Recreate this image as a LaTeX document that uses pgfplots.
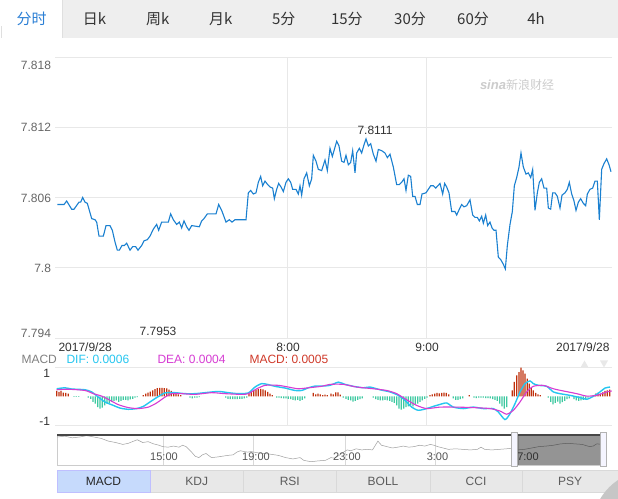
\documentclass[border=0pt]{standalone}
\usepackage{pgfplots}
\pgfplotsset{compat=1.18}
\usepackage{fontspec}
\setmainfont{Liberation Sans}
\newfontfamily\cjk{Noto Sans CJK SC}
\definecolor{lineblue}{HTML}{1A80D0}
\definecolor{gridc}{HTML}{E8E8E8}
\definecolor{tickc}{HTML}{666666}
\definecolor{darkt}{HTML}{333333}
\definecolor{difc}{HTML}{25C6F0}
\definecolor{deac}{HTML}{D63CD3}
\definecolor{barred}{HTML}{C0300C}
\definecolor{bargreen}{HTML}{3CC9A0}
\definecolor{legred}{HTML}{D03A2A}
\definecolor{tabbg}{HTML}{EEEEEE}
\definecolor{tabblue}{HTML}{2B7FD5}
\definecolor{wm}{HTML}{CCCCCC}
\definecolor{btnbg}{HTML}{E8E8E8}
\definecolor{btnsel}{HTML}{C6DAFC}
\begin{document}
\begin{tikzpicture}[x=1pt,y=1pt,font=\fontsize{12}{14}\selectfont]
\useasboundingbox (0,0) rectangle (618,498);
\clip (0,0) rectangle (618,498);
\fill[white] (0,0) rectangle (618,498);
% ---- tab bar
\fill[tabbg] (0,460) rectangle (618,498);
\fill[white] (0,460) rectangle (62.5,498);
\draw[gray!25] (62.5,460) -- (62.5,498);
\draw[gray!25] (1,460) -- (1,472);
\begin{scope}[font=\cjk\fontsize{15}{18}\selectfont]
\node[text=tabblue] at (31.5,479) {分时};
\node[text=darkt] at (94.6,479) {日k};
\node[text=darkt] at (157.7,479) {周k};
\node[text=darkt] at (220.7,479) {月k};
\node[text=darkt] at (283.8,479) {5分};
\node[text=darkt] at (346.9,479) {15分};
\node[text=darkt] at (410,479) {30分};
\node[text=darkt] at (473,479) {60分};
\node[text=darkt] at (536,479) {4h};
\end{scope}
% ---- main price chart
\begin{axis}[at={(55pt,160pt)}, anchor=south west, scale only axis,
  width=557pt, height=281pt,
  xmin=165, xmax=1836, ymin=7.794, ymax=7.818,
  axis line style={draw=none}, major tick length=0pt,
  xtick={862,1280}, ytick={7.794,7.8,7.806,7.812,7.818},
  xticklabels={}, yticklabels={},
  grid=major, major grid style={draw=gridc, line width=0.9pt}]
\addplot[lineblue, line width=1.1pt] coordinates {
(172,7.8054)(192,7.8054)(200,7.8057)(215,7.8050)(222,7.8050)(237,7.8056)(242,7.8056)(248,7.8060)(255,7.8056)(262,7.8055)(275,7.8042)(285,7.8041)(290,7.8039)(297,7.8027)(310,7.8027)(318,7.8036)(330,7.8036)(337,7.8032)(345,7.8022)(352,7.8015)(358,7.8015)(366,7.8019)(373,7.8019)(380,7.8021)(390,7.8015)(398,7.8018)(407,7.8018)(414,7.8015)(425,7.8019)(432,7.8023)(442,7.8024)(450,7.8027)(460,7.8033)(470,7.8037)(476,7.8032)(485,7.8039)(505,7.8039)(512,7.8046)(520,7.8041)(530,7.8037)(538,7.8039)(545,7.8034)(552,7.8040)(560,7.8035)(567,7.8032)(575,7.8036)(598,7.8035)(605,7.8040)(612,7.8042)(622,7.8046)(648,7.8046)(656,7.8054)(665,7.8049)(678,7.8039)(688,7.8041)(696,7.8039)(705,7.8041)(715,7.8041)(738,7.8041)(745,7.8064)(752,7.8066)(760,7.8063)(768,7.8064)(775,7.8073)(782,7.8078)(788,7.8070)(795,7.8074)(803,7.8071)(810,7.8069)(818,7.8068)(823,7.8059)(830,7.8067)(836,7.8072)(843,7.8069)(850,7.8065)(858,7.8073)(865,7.8076)(872,7.8073)(878,7.8067)(888,7.8067)(895,7.8063)(900,7.8070)(905,7.8062)(912,7.8076)(920,7.8081)(928,7.8070)(935,7.8076)(940,7.8096)(948,7.8091)(955,7.8084)(965,7.8083)(975,7.8092)(982,7.8083)(990,7.8102)(997,7.8095)(1010,7.8108)(1017,7.8104)(1025,7.8091)(1032,7.8090)(1038,7.8096)(1045,7.8088)(1052,7.8090)(1058,7.8100)(1065,7.8081)(1070,7.8098)(1078,7.8102)(1085,7.8098)(1092,7.8105)(1098,7.8110)(1105,7.8104)(1112,7.8106)(1120,7.8097)(1128,7.8091)(1135,7.8101)(1145,7.8100)(1155,7.8098)(1162,7.8094)(1170,7.8097)(1180,7.8086)(1190,7.8071)(1198,7.8071)(1205,7.8073)(1212,7.8076)(1218,7.8066)(1225,7.8079)(1232,7.8078)(1238,7.8061)(1245,7.8061)(1252,7.8054)(1260,7.8054)(1266,7.8063)(1278,7.8064)(1285,7.8067)(1292,7.8070)(1300,7.8070)(1307,7.8068)(1320,7.8072)(1328,7.8063)(1334,7.8072)(1340,7.8069)(1347,7.8064)(1355,7.8048)(1365,7.8048)(1370,7.8045)(1378,7.8050)(1385,7.8054)(1392,7.8052)(1400,7.8053)(1410,7.8058)(1418,7.8045)(1425,7.8043)(1432,7.8043)(1438,7.8040)(1445,7.8044)(1450,7.8038)(1457,7.8045)(1463,7.8036)(1470,7.8039)(1476,7.8034)(1482,7.8032)(1488,7.8032)(1495,7.8009)(1502,7.8007)(1510,7.8003)(1516,7.7999)(1522,7.8019)(1530,7.8037)(1537,7.8048)(1543,7.8070)(1550,7.8077)(1557,7.8086)(1563,7.8098)(1570,7.8086)(1578,7.8080)(1585,7.8081)(1592,7.8077)(1598,7.8084)(1605,7.8049)(1612,7.8064)(1618,7.8073)(1625,7.8076)(1632,7.8068)(1640,7.8068)(1645,7.8051)(1652,7.8050)(1658,7.8064)(1665,7.8064)(1672,7.8061)(1680,7.8051)(1686,7.8062)(1695,7.8064)(1702,7.8067)(1708,7.8073)(1715,7.8063)(1722,7.8057)(1728,7.8049)(1735,7.8056)(1742,7.8059)(1750,7.8055)(1757,7.8053)(1762,7.8063)(1770,7.8067)(1778,7.8068)(1785,7.8074)(1792,7.8074)(1798,7.8041)(1805,7.8084)(1812,7.8089)(1820,7.8093)(1827,7.8088)(1833,7.8082)};
\end{axis}
% y tick labels
\begin{scope}[text=tickc]
\node[anchor=east] at (54.5,433) {7.818};
\node[anchor=east] at (54.5,371) {7.812};
\node[anchor=east] at (54.5,300) {7.806};
\node[anchor=east] at (54.5,230) {7.8};
\node[anchor=east] at (54.5,165) {7.794};
\end{scope}
\node[text=darkt] at (375,367.5) {7.8111};
\node[text=darkt] at (158,167) {7.7953};
\node at (517,413) {{\color{wm}\fontsize{13}{14}\selectfont\bfseries\itshape sina}{\cjk\color{wm}\fontsize{12}{14}\selectfont 新浪财经}};
% time labels
\begin{scope}[text=darkt]
\node[anchor=west] at (55,151) {2017/9/28};
\node at (288,151) {8:00};
\node at (427,151) {9:00};
\node[anchor=east] at (613,151) {2017/9/28};
\end{scope}
% MACD legend
\node[anchor=west, text=gray] at (18,139) {MACD};
\node[anchor=west, text=difc] at (63,139) {DIF: 0.0006};
\node[anchor=west, text=deac] at (154,139) {DEA: 0.0004};
\node[anchor=west, text=legred] at (246,139) {MACD: 0.0005};
\fill[gray!18] (580.5,130.5) -- (588.5,130.5) -- (584.5,137.5) -- cycle;
\fill[gray!18] (600,137.5) -- (608,137.5) -- (604,130.5) -- cycle;
% ---- MACD panel
\begin{axis}[at={(55pt,72.3pt)}, anchor=south west, scale only axis,
  width=557pt, height=58.7pt,
  xmin=165, xmax=1836, ymin=-1.2, ymax=1.2,
  axis line style={draw=none}, major tick length=0pt,
  xtick={862,1280}, ytick={-1.2,1.2},
  xticklabels={}, yticklabels={},
  grid=major, major grid style={draw=gridc, line width=0.9pt}]
\addplot[ybar, bar width=1.3pt, bar shift=0pt, fill=barred, draw=none] coordinates {
(170,0.22)(177,0.18)(183,0.22)(190,0.15)(197,0.14)(205,0.11)
(430,0.05)(437,0.11)(444,0.15)(451,0.19)(458,0.24)(465,0.30)(472,0.34)(479,0.35)(486,0.35)(493,0.34)(500,0.33)(507,0.27)(514,0.22)(521,0.16)(528,0.11)(535,0.08)(542,0.05)
(747,0.11)(754,0.18)(761,0.24)(768,0.27)(775,0.30)(782,0.31)(789,0.29)(796,0.24)(803,0.18)(810,0.11)(817,0.05)
(940,0.14)(947,0.08)(954,0.11)(961,0.08)(968,0.05)(975,0.07)(982,0.05)
(993,0.11)(1000,0.08)(1007,0.16)(1014,0.16)(1021,0.07)
(1290,0.05)(1297,0.08)(1304,0.11)(1311,0.14)(1318,0.12)(1325,0.14)(1332,0.15)(1339,0.14)(1346,0.08)
(1408,0.05)
(1537,0.24)(1543,0.59)(1550,0.86)(1557,0.99)(1563,1.17)(1569,1.06)(1575,0.93)(1582,0.72)(1588,0.52)(1594,0.35)(1600,0.24)(1607,0.14)(1614,0.08)(1621,0.05)
(1780,0.05)(1787,0.11)(1794,0.14)(1801,0.11)(1808,0.16)(1815,0.22)(1822,0.24)(1829,0.27)};
\addplot[ybar, bar width=1.3pt, bar shift=0pt, fill=bargreen, draw=none] coordinates {
(222,-0.02)(229,-0.02)(236,-0.02)
(265,-0.05)(272,-0.10)(279,-0.23)(286,-0.30)(293,-0.44)(300,-0.50)(307,-0.46)(314,-0.37)(321,-0.30)(328,-0.27)(335,-0.23)(342,-0.19)(349,-0.16)(356,-0.23)(363,-0.19)(370,-0.14)(377,-0.14)(384,-0.16)(391,-0.12)(398,-0.10)(405,-0.05)(412,-0.03)
(570,-0.05)(577,-0.08)(584,-0.05)(591,-0.05)(598,-0.03)
(677,-0.05)(684,-0.10)(691,-0.11)(698,-0.11)(705,-0.11)(712,-0.11)(719,-0.10)(726,-0.10)(733,-0.08)(740,-0.05)
(830,-0.05)(837,-0.05)(844,-0.07)(851,-0.08)(858,-0.08)(865,-0.10)(872,-0.11)(879,-0.14)(886,-0.16)(893,-0.14)(900,-0.19)(907,-0.14)(914,-0.08)
(1030,-0.05)(1038,-0.10)(1045,-0.14)(1052,-0.16)(1059,-0.22)(1066,-0.19)(1073,-0.14)(1080,-0.11)(1087,-0.08)
(1120,-0.05)(1127,-0.11)(1134,-0.14)(1141,-0.16)(1148,-0.16)(1155,-0.14)(1162,-0.16)(1169,-0.19)(1176,-0.23)(1183,-0.27)(1190,-0.37)(1197,-0.50)(1204,-0.54)(1211,-0.50)(1218,-0.44)(1225,-0.41)(1232,-0.37)(1239,-0.41)(1246,-0.33)(1253,-0.30)(1260,-0.23)(1267,-0.16)(1274,-0.10)(1281,-0.05)
(1360,-0.08)(1367,-0.14)(1374,-0.14)(1381,-0.11)(1388,-0.08)
(1422,-0.05)(1429,-0.07)(1436,-0.05)(1443,-0.05)(1450,-0.05)(1457,-0.07)(1464,-0.07)(1471,-0.08)(1478,-0.11)(1485,-0.14)(1492,-0.19)(1499,-0.30)(1506,-0.41)(1513,-0.50)(1520,-0.44)
(1645,-0.05)(1652,-0.23)(1659,-0.33)(1666,-0.27)(1673,-0.22)(1680,-0.30)(1687,-0.24)(1694,-0.19)(1701,-0.11)(1708,-0.08)
(1722,-0.11)(1729,-0.16)(1736,-0.19)(1743,-0.16)(1750,-0.14)(1757,-0.11)(1764,-0.05)};
\addplot[difc, line width=1.4pt, smooth, tension=0.4] coordinates {
(170,0.31)(195,0.35)(215,0.30)(255,0.27)(275,0.18)(295,-0.03)(315,-0.23)(340,-0.37)(360,-0.48)(385,-0.53)(410,-0.50)(430,-0.41)(450,-0.23)(470,-0.05)(495,0.14)(525,0.15)(555,0.11)(585,0.11)(615,0.15)(655,0.20)(685,0.15)(715,0.11)(745,0.14)(765,0.38)(785,0.52)(805,0.48)(825,0.41)(855,0.34)(885,0.24)(905,0.24)(925,0.35)(945,0.42)(965,0.42)(990,0.45)(1015,0.58)(1035,0.49)(1060,0.41)(1090,0.35)(1110,0.38)(1140,0.27)(1170,0.18)(1195,0.04)(1215,-0.16)(1235,-0.44)(1255,-0.57)(1280,-0.50)(1300,-0.41)(1320,-0.33)(1340,-0.27)(1360,-0.44)(1390,-0.50)(1420,-0.44)(1450,-0.50)(1480,-0.50)(1495,-0.64)(1515,-0.95)(1530,-0.71)(1545,-0.30)(1560,0.18)(1575,0.52)(1590,0.63)(1600,0.52)(1615,0.45)(1640,0.41)(1660,0.18)(1680,0.11)(1710,0.04)(1740,-0.05)(1760,-0.12)(1780,0.0)(1800,0.18)(1815,0.34)(1830,0.38)};
\addplot[deac, line width=1.1pt, smooth, tension=0.4] coordinates {
(170,0.27)(205,0.29)(255,0.24)(280,0.11)(305,0.01)(330,-0.16)(355,-0.34)(385,-0.46)(415,-0.50)(445,-0.44)(470,-0.27)(495,-0.03)(515,0.11)(545,0.11)(585,0.08)(635,0.15)(675,0.11)(725,0.08)(745,0.11)(765,0.27)(795,0.45)(835,0.45)(865,0.38)(895,0.31)(925,0.35)(965,0.41)(990,0.49)(1030,0.49)(1070,0.38)(1120,0.31)(1160,0.24)(1190,0.11)(1220,-0.14)(1250,-0.37)(1280,-0.50)(1320,-0.44)(1370,-0.44)(1420,-0.46)(1470,-0.50)(1500,-0.60)(1520,-0.73)(1540,-0.57)(1560,-0.23)(1580,0.18)(1600,0.41)(1630,0.45)(1660,0.31)(1690,0.22)(1730,0.11)(1760,0.01)(1790,0.04)(1820,0.18)(1835,0.22)};
\end{axis}
\node[anchor=east, text=darkt] at (53.5,125) {1};
\node[anchor=east, text=darkt] at (53.5,77) {-1};
% ---- navigator
\draw[gray!40] (57,33) rectangle (604,64);
\foreach \xx in {163,253,345,435.5,518} \draw[gray!30] (\xx,33) -- (\xx,64);
\begin{axis}[at={(57pt,33pt)}, anchor=south west, scale only axis,
  width=547pt, height=31pt, xmin=18, xmax=1530, ymin=0, ymax=113, hide axis]
\addplot[gray!75, line width=0.5pt] coordinates {
(18,102)(40,105)(60,99)(80,102)(100,107)(120,102)(140,97)(160,87)(180,82)(200,75)(215,79)(230,87)(240,92)(255,82)(270,85)(285,77)(300,72)(310,67)(325,65)(340,69)(355,65)(365,72)(375,67)(390,47)(400,32)(410,27)(420,37)(430,42)(445,27)(460,29)(475,32)(490,35)(505,37)(515,47)(525,52)(535,49)(545,47)(555,49)(570,45)(590,42)(610,39)(630,35)(650,27)(670,22)(690,27)(700,17)(720,12)(740,15)(760,17)(775,27)(785,25)(800,37)(810,47)(820,55)(830,52)(845,59)(860,55)(875,57)(890,55)(905,87)(915,72)(930,67)(945,62)(960,65)(975,69)(990,65)(1005,67)(1020,72)(1035,69)(1050,75)(1060,72)(1070,67)(1085,62)(1100,57)(1120,59)(1140,57)(1160,55)(1180,57)(1190,65)(1200,57)(1220,55)(1240,57)(1260,59)(1275,61)(1290,55)(1310,57)(1330,62)(1350,67)(1370,69)(1390,72)(1410,77)(1430,79)(1450,77)(1470,75)(1490,67)(1500,69)(1510,77)(1530,75)};
\end{axis}
\begin{scope}[text=darkt!85, font=\fontsize{11}{13}\selectfont]
\node at (164,41) {15:00};
\node at (256,41) {19:00};
\node at (347,41) {23:00};
\node at (437.5,41) {3:00};
\node at (528,41) {7:00};
\end{scope}
\fill[black, fill opacity=0.42] (516,33) rectangle (602,64);
\draw[line width=2pt, darkt!90] (57,63) -- (604,63);
\filldraw[fill=blue!4, draw=gray!60] (511,32) rectangle (517,65.5);
\filldraw[fill=blue!4, draw=gray!60] (600.5,32) rectangle (606,65.5);
% ---- indicator buttons
\def\btn#1#2#3{\filldraw[fill=btnbg, draw=gray!30] (#1,6) rectangle (#2,28); \node[text=darkt!80] at ({(#1+#2)/2},17) {#3};}
\btn{150}{243.6}{KDJ}
\btn{243.6}{336}{RSI}
\btn{336}{430}{BOLL}
\btn{430}{522}{CCI}
\btn{522}{618}{PSY}
\filldraw[fill=btnsel, draw=blue!25] (57,6) rectangle (150,28);
\node[text=black!85] at (103.5,17) {MACD};
\fill[gray!45] (650,-30) circle (57.7);
\end{tikzpicture}
\end{document}
